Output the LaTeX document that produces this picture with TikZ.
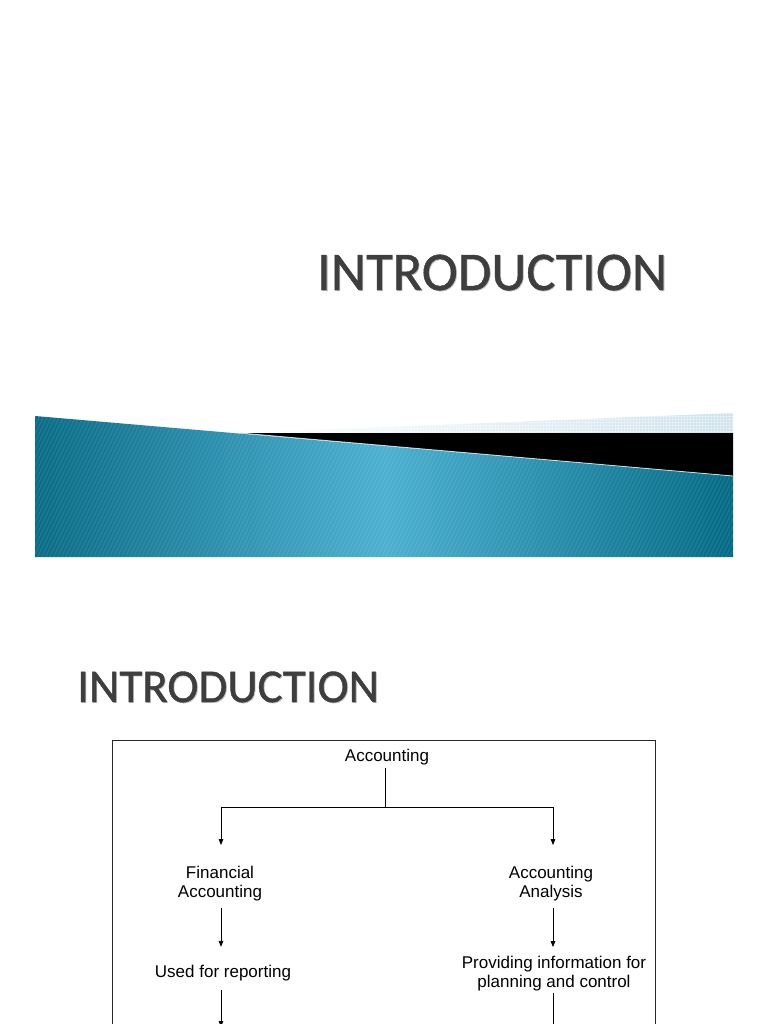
\documentclass[tikz,border=0pt]{standalone}
\usepackage{fontspec}
\setmainfont{Liberation Sans}
\newfontfamily\titlefont[FakeBold=0.8]{Carlito}
\usetikzlibrary{arrows.meta,calc}
\definecolor{tealL}{RGB}{10,108,134}
\definecolor{tealM}{RGB}{76,176,208}
\definecolor{tealR}{RGB}{4,106,132}
\definecolor{paleblue}{RGB}{205,226,236}
\definecolor{titlegray}{RGB}{62,62,62}
\definecolor{shadowgray}{RGB}{190,190,190}
\definecolor{framegray}{RGB}{40,40,40}
\definecolor{edgeblue}{RGB}{190,225,235}
\tikzset{
  txt/.style={font=\fontsize{17}{19.5}\selectfont, inner sep=0pt, align=center, text=black},
  conn/.style={draw=black, line width=0.8pt},
  arr/.style={conn, -{Triangle[length=6pt,width=4.5pt]}},
  titletxt/.style={inner sep=0pt, anchor=base west, text=titlegray},
  titleshadow/.style={inner sep=0pt, anchor=base west, text=shadowgray},
  frameline/.style={draw=framegray, line width=0.9pt}
}
\begin{document}
\begin{tikzpicture}[x=1pt,y=-1pt]
\useasboundingbox (0,0) rectangle (768,1024);
\clip (0,0) rectangle (768,1024);
\fill[white] (0,0) rectangle (768,1024);

% ---- first title
\node[titleshadow, font=\titlefont\fontsize{54.5}{60}\selectfont] (t1s) at (317.8,290.8) {INTRODUCTION};
\node[titletxt, font=\titlefont\fontsize{54.5}{60}\selectfont] (t1) at (317,290) {INTRODUCTION};

% ---- banner
\coordinate (bTL) at (35,416);
\coordinate (bBL) at (35,557);
\coordinate (bBR) at (733,557);
\coordinate (bRE) at (733,476);
\coordinate (bKP) at (240,433);
\coordinate (bKT) at (733,433);
\coordinate (bLT) at (733,413);
% pale hatched wedge
\shade[left color=white, right color=paleblue] (bKP) -- (bLT) -- (bKT) -- cycle;
\begin{scope}
  \clip (bKP) -- (bLT) -- (bKT) -- cycle;
  \foreach \i in {240,243,...,733} { \draw[white, opacity=0.35, line width=0.6pt] (\i,405) -- (\i,435); }
  \foreach \j in {410,413,...,434} { \draw[white, opacity=0.35, line width=0.6pt] (240,\j) -- (733,\j); }
\end{scope}
% black wedge
\fill[black] (bKP) -- (bKT) -- (bRE) -- cycle;
% teal shape
\shade[left color=tealL, right color=tealR, middle color=tealM] (bTL) -- (bRE) -- (bBR) -- (bBL) -- cycle;
\begin{scope}
  \clip (bTL) -- (bRE) -- (bBR) -- (bBL) -- cycle;
  \foreach \i in {-100,-96,...,740} { \draw[white, opacity=0.08, line width=1.2pt] (\i,560) -- ++(85,-170); }
\end{scope}
\draw[edgeblue, line width=0.8pt] (bKP) -- (bRE);

% ---- second title
\node[titleshadow, font=\titlefont\fontsize{47}{52}\selectfont] (t2s) at (77.8,702.8) {INTRODUCTION};
\node[titletxt, font=\titlefont\fontsize{47}{52}\selectfont] (t2) at (77,702) {INTRODUCTION};

% ---- frame
\draw[frameline] (112,1030) |- (655,740) -- (655,1030);

% ---- diagram nodes
\node[txt, anchor=base] (acc) at (387,761) {Accounting};
\node[txt] (fin) at (220,883.6) {Financial\\Accounting};
\node[txt] (ana) at (551,883.6) {Accounting\\Analysis};
\node[txt, anchor=base] (used) at (223,977) {Used for reporting};
\node[txt] (prov) at (554,973.6) {Providing information for\\planning and control};

\coordinate (jn) at (385,807);
\coordinate (endL) at (221,1027);
\coordinate (endR) at (553,1036);

% ---- connectors
\draw[conn, shorten <=3.4pt] (acc.south -| jn) -- (jn);
\draw[arr] (jn) -| ($(fin.north)+(1,-20.6)$);
\draw[arr] (jn) -| ($(ana.north)+(2,-20.6)$);
\draw[arr, shorten <=6.4pt, shorten >=17.6pt] (fin.south -| endL) -- (used.north -| endL);
\draw[arr, shorten <=6.4pt, shorten >=8.6pt] (ana.south -| endR) -- (prov.north -| endR);
\draw[arr, shorten <=9.4pt] (used.south -| endL) -- (endL);
\draw[arr, shorten <=1.4pt] (prov.south -| endR) -- (endR);
\end{tikzpicture}
\end{document}
